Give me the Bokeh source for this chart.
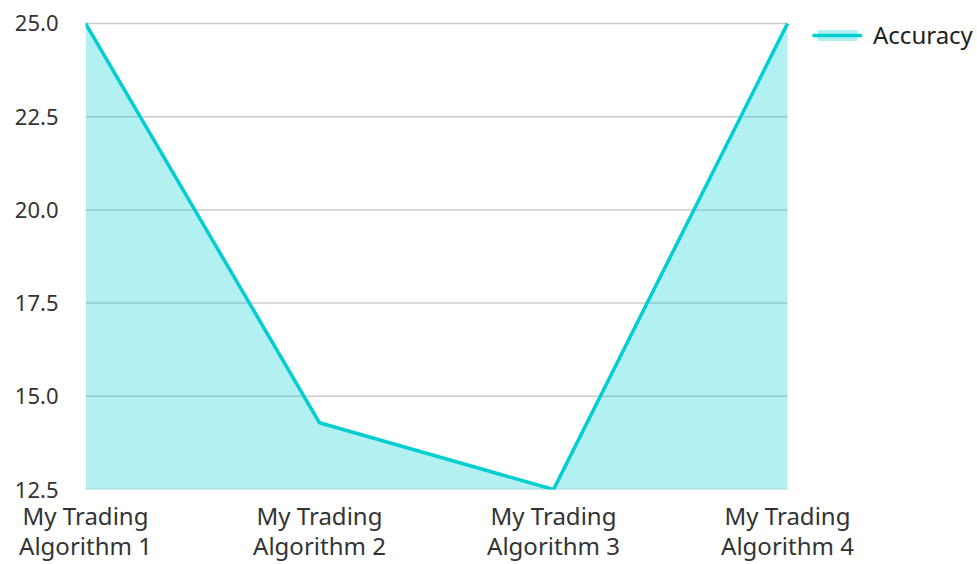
from bokeh.plotting import figure
from bokeh.models import Range1d, FixedTicker, NumeralTickFormatter, Legend, LegendItem
from bokeh.embed import file_html
from bokeh.resources import INLINE

categories = ["My Trading\nAlgorithm 1", "My Trading\nAlgorithm 2", "My Trading\nAlgorithm 3", "My Trading\nAlgorithm 4"]
accuracy = [25.0, 14.29, 12.5, 25.0]
y_ticks = [12.5, 15.0, 17.5, 20.0, 22.5, 25.0]
series_name = "Accuracy"

FONT = "Noto Sans"
COLOR = "#00CED1"

# layout (pixels)
W, H = 977, 564
LEFT, TOP, BOTTOM = 85, 15, 74
PLOT_RIGHT_PX = 787      # where the last category sits
PLOT_TOP_PX = 23         # where the top tick sits

xs = list(range(len(categories)))
base = min(y_ticks)
frame_w = W - LEFT
frame_h = H - TOP - BOTTOM
n = len(categories) - 1
x_end = n * frame_w / (PLOT_RIGHT_PX - LEFT)
y_span = max(y_ticks) - min(y_ticks)
y_end = min(y_ticks) + y_span * frame_h / (frame_h - (PLOT_TOP_PX - TOP))

p = figure(width=W, height=H, output_backend="svg", toolbar_location=None,
           x_range=Range1d(0, x_end), y_range=Range1d(min(y_ticks), y_end),
           min_border_left=LEFT, min_border_top=TOP, min_border_right=0, min_border_bottom=BOTTOM)
p.outline_line_color = None
p.background_fill_color = "white"
p.border_fill_color = "white"

# horizontal grid lines spanning only the category extent
p.segment(x0=[xs[0]] * len(y_ticks), x1=[xs[-1]] * len(y_ticks), y0=y_ticks, y1=y_ticks,
          line_color="#cccccc", line_width=1.5, level="underlay")

area = p.varea(x=xs, y1=[base] * len(xs), y2=accuracy, fill_color=COLOR, fill_alpha=0.3)
line = p.line(x=xs, y=accuracy, line_color=COLOR, line_width=3.5)

p.xaxis.ticker = FixedTicker(ticks=xs)
p.xaxis.major_label_overrides = {i: c for i, c in enumerate(categories)}
p.yaxis.ticker = FixedTicker(ticks=y_ticks)
p.yaxis.formatter = NumeralTickFormatter(format="0.0")

for ax in (p.xaxis[0], p.yaxis[0]):
    ax.axis_line_color = None
    ax.major_tick_line_color = None
    ax.minor_tick_line_color = None
    ax.major_tick_out = 0
    ax.major_tick_in = 0
    ax.major_label_text_font = FONT
    ax.major_label_text_color = "#333333"
p.yaxis.major_label_text_font_size = "22px"
p.xaxis.major_label_text_font_size = "24px"
p.yaxis.major_label_standoff = 27
p.xaxis.major_label_standoff = 9
p.xaxis.major_label_text_line_height = 0.92

p.xgrid.grid_line_color = None
p.ygrid.grid_line_color = None

legend = Legend(items=[LegendItem(label=series_name, renderers=[area, line])],
                location=(727, 438), padding=0, margin=0, spacing=0,
                glyph_width=50, glyph_height=14, label_standoff=11,
                label_text_font=FONT, label_text_font_size="24px", label_text_color="#222222",
                border_line_color=None, background_fill_alpha=0)
p.add_layout(legend, "center")

open("out.html", "w").write(file_html(p, INLINE))
